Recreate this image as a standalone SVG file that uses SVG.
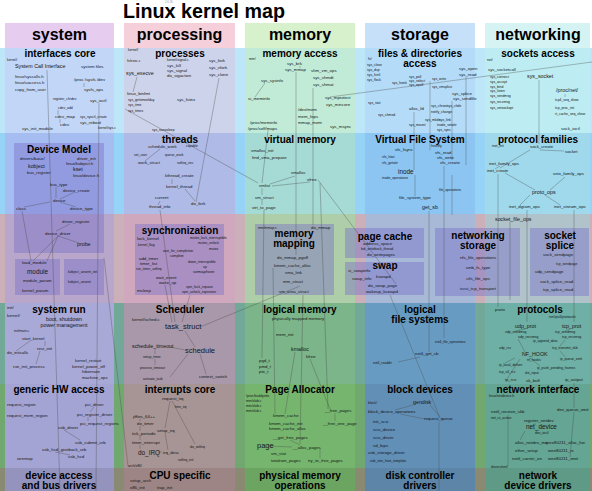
<svg xmlns="http://www.w3.org/2000/svg" width="592" height="491" viewBox="0 0 592 491">
<style>
text{font-family:"Liberation Sans",Arial,sans-serif;fill:#161616}
.h{font-size:16px;font-weight:bold;text-anchor:middle;fill:#000}
.t{font-size:10px;font-weight:bold;text-anchor:middle;fill:#000}
.a{font-size:3.4px}
.s{font-size:4.3px}
.m{font-size:5.3px}
.l{font-size:6.4px}
.x{font-size:7.5px}
.mid{text-anchor:middle}
.c{fill:none;stroke:#4a4a4a;stroke-width:0.45;opacity:0.8}
.bx{fill:#7a70c8;opacity:0.45}
</style>
<g id="background">
<rect x="0" y="0" width="592" height="491" fill="#ffffff"/>
<rect x="0" y="48" width="592" height="85" fill="#bde6f8"/>
<rect x="0" y="133" width="592" height="81" fill="#97d2f7"/>
<rect x="0" y="214" width="592" height="89" fill="#cbb0ba"/>
<rect x="0" y="303" width="592" height="81" fill="#72a898"/>
<rect x="0" y="384" width="592" height="84" fill="#70a870"/>
<rect x="0" y="468" width="592" height="23" fill="#8a8a72"/>
<rect x="5" y="23" width="109" height="25" fill="#e6cdef"/>
<rect x="124" y="23" width="111" height="25" fill="#f5d0da"/>
<rect x="245" y="23" width="110" height="25" fill="#d7f1cc"/>
<rect x="365" y="23" width="110" height="25" fill="#c6e0fa"/>
<rect x="485" y="23" width="105" height="25" fill="#d6f3f3"/>
<rect x="5" y="48" width="109" height="85" fill="#c2d6f8"/>
<rect x="124" y="48" width="111" height="85" fill="#cdd3ea"/>
<rect x="245" y="48" width="110" height="85" fill="#c1ebd6"/>
<rect x="365" y="48" width="110" height="85" fill="#b4dbf8"/>
<rect x="485" y="48" width="105" height="85" fill="#bdedf2"/>
<rect x="5" y="133" width="109" height="81" fill="#a6bdf2"/>
<rect x="124" y="133" width="111" height="81" fill="#afbae6"/>
<rect x="245" y="133" width="110" height="81" fill="#a6dad4"/>
<rect x="365" y="133" width="110" height="81" fill="#8cc5f2"/>
<rect x="485" y="133" width="105" height="81" fill="#a0d8ec"/>
<rect x="5" y="214" width="109" height="89" fill="#b9a6cb"/>
<rect x="124" y="214" width="111" height="89" fill="#cfa8bd"/>
<rect x="245" y="214" width="110" height="89" fill="#adcea8"/>
<rect x="365" y="214" width="110" height="89" fill="#a7b9d7"/>
<rect x="485" y="214" width="105" height="89" fill="#b0c3cb"/>
<rect x="5" y="303" width="109" height="81" fill="#a9a9d8"/>
<rect x="124" y="303" width="111" height="81" fill="#a898a9"/>
<rect x="245" y="303" width="110" height="81" fill="#7bb589"/>
<rect x="365" y="303" width="110" height="81" fill="#689bc2"/>
<rect x="485" y="303" width="105" height="81" fill="#6eb0a5"/>
<rect x="5" y="384" width="109" height="84" fill="#a4a4d4"/>
<rect x="124" y="384" width="111" height="84" fill="#a79494"/>
<rect x="245" y="384" width="110" height="84" fill="#76b56e"/>
<rect x="365" y="384" width="110" height="84" fill="#628fb6"/>
<rect x="485" y="384" width="105" height="84" fill="#64a593"/>
<rect x="5" y="468" width="109" height="23" fill="#9393bd"/>
<rect x="124" y="468" width="111" height="23" fill="#9d8585"/>
<rect x="245" y="468" width="110" height="23" fill="#6ca562"/>
<rect x="365" y="468" width="110" height="23" fill="#5c85a8"/>
<rect x="485" y="468" width="105" height="23" fill="#5e9a85"/>
</g>
<g id="boxes">
<rect class="bx" x="14" y="143" width="90" height="110"/>
<rect class="bx" x="15" y="259" width="45" height="36"/>
<rect class="bx" x="64" y="259" width="40" height="36"/>
<rect class="bx" x="135" y="224" width="89" height="71"/>
<rect class="bx" x="255" y="224" width="79" height="71"/>
<rect class="bx" x="345" y="228" width="79" height="30"/>
<rect class="bx" x="345" y="262" width="79" height="33"/>
<rect class="bx" x="435" y="228" width="85" height="68"/>
<rect class="bx" x="530" y="228" width="59" height="68"/>
</g>
<g id="connectors">
<path class="c" d="M47 70 L60 491"/>
<path class="c" d="M99 103 L96 491"/>
<path class="c" d="M58 110 L58 115 M60 119 L60 123 M84 83 L84 87"/>
<path class="c" d="M56 187 L56 198 M75 192 L60 199 M50 202 L24 207 M60 202 L76 207 M70 224 L56 231 M58 236 L79 243 M58 236 L33 261 M58 236 L47 261 M22 211 L31 261"/>
<path class="c" d="M30 341 L16 351 M45 341 L45 346 M40 351 L36 364"/>
<path class="c" d="M94 407 L90 412 M88 417 L88 421 M64 430 L80 440 M55 452 L70 455"/>
<path class="c" d="M104 258 L128 466"/>
<path class="c" d="M137 77 L133 92"/>
<path class="c" d="M125 109 L258 183"/>
<path class="c" d="M219 78 L196 202"/>
<path class="c" d="M160 149 L145 161 M172 179 L172 184 M185 189 L195 201 M160 201 L158 205"/>
<path class="c" d="M160 210 L175 322 M165 285 L172 322 M190 295 L182 322"/>
<path class="c" d="M200 327 L300 286"/>
<path class="c" d="M170 347 L185 350 M155 349 L155 354 M155 359 L155 365 M195 347 L185 331 M200 354 L206 374 M188 354 L170 377"/>
<path class="c" d="M140 419 L140 421 M140 426 L140 431 M140 436 L140 440 M140 445 L140 449 M158 452 L162 452 M170 401 L165 428 M165 433 L168 450 M172 401 L195 444"/>
<path class="c" d="M300 66 L300 68 M296 72 L296 255 M313 88 L313 225 M265 83 L255 97 M268 130 L262 183"/>
<path class="c" d="M295 176 L270 184 M310 182 L272 186 M262 188 L262 195 M262 200 L262 205"/>
<path class="c" d="M264 210 L262 358 M273 268 L275 414 M303 295 L300 444 M320 183 L328 409 M295 352 L285 414 M310 359 L330 409 M335 413 L335 421 M290 440 L300 445 M268 446 L292 447 M320 449 L320 458"/>
<path class="c" d="M318 180 L396 284"/>
<path class="c" d="M390 295 L440 418"/>
<path class="c" d="M414 112 L414 170 M430 81 L430 150 M452 101 L452 160 M466 77 L466 165"/>
<path class="c" d="M415 175 L415 196 M429 211 L429 352 M444 166 L444 338 M452 175 L452 215"/>
<path class="c" d="M413 405 L395 410 M430 405 L440 417 M400 414 L425 419 M439 422 L439 491"/>
<path class="c" d="M420 357 L398 362"/>
<path class="c" d="M539 80 L539 144 M565 94 L565 97 M540 150 L564 151 M530 150 L500 168 M500 166 L495 169 M505 173 L535 190 M565 177 L550 190 M530 195 L520 205 M545 195 L560 205"/>
<path class="c" d="M498 174 L498 307 M527 210 L527 322 M574 210 L574 322 M510 222 L510 300"/>
<path class="c" d="M525 329 L515 331 M570 329 L565 331 M518 339 L525 352 M565 340 L560 346 M560 351 L565 357 M515 358 L505 363 M530 358 L540 366 M507 379 L520 359"/>
<path class="c" d="M574 383 L574 408 M574 412 L570 457 M508 415 L508 466 M535 423 L535 425 M525 431 L520 440"/>
<path class="c" d="M330 97 L592 62"/>
</g>
<g id="title">
<text x="204" y="18" style="font-size:19.7px;font-weight:bold;text-anchor:middle;fill:#000">Linux kernel map</text>
<text x="165" y="3.2" style="font-size:2.8px;fill:#9a9a9a">2.6.36</text>
</g>
<g id="col-system"><text class="h" x="59.5" y="40">system</text></g>
<g id="col-processing"><text class="h" x="179.5" y="40">processing</text></g>
<g id="col-memory"><text class="h" x="300" y="40">memory</text></g>
<g id="col-storage"><text class="h" x="420" y="40">storage</text></g>
<g id="col-networking"><text class="h" x="538" y="40">networking</text></g>
<g id="interfaces-core">
<text class="t" x="60" y="57">interfaces core</text>
<text class="a" x="7" y="61">kernel/</text>
<text class="m" x="15" y="68">System Call Interface</text>
<text class="s" x="81" y="68">system files</text>
<text class="s" x="15" y="78">linux/syscalls.h</text>
<text class="s" x="74" y="81">/proc /sysfs /dev</text>
<text class="s" x="15" y="84">linux/uaccess.h</text>
<text class="s" x="84" y="91">sysfs_ops</text>
<text class="s" x="15" y="91">copy_from_user</text>
<text class="a" x="53" y="100">register_chrdev</text>
<text class="s" x="90" y="102">sys_ioctl</text>
<text class="a" x="58" y="109">cdev_add</text>
<text class="s" x="55" y="118">cdev_map</text>
<text class="a" x="80" y="118">sys_sysctl_create</text>
<text class="s" x="60" y="126">cdev</text>
<text class="s" x="80" y="124">sys_reboot</text>
<text class="s" x="22" y="130">sys_init_module</text>
<text class="a" x="98" y="129">kernel/sys.c</text>
</g>
<g id="processes">
<text class="t" x="180" y="57">processes</text>
<text class="a" x="128" y="51">kernel/</text>
<text class="a" x="127" y="62">fs/exec.c</text>
<text class="a" x="167" y="61">kernel/signal.c</text>
<text class="s" x="167" y="67">sys_kill</text>
<text class="s" x="167" y="72">sys_signal</text>
<text class="s" x="167" y="77">do_sigaction</text>
<text class="m" x="126" y="75">sys_execve</text>
<text class="s" x="209" y="62">sys_fork</text>
<text class="s" x="209" y="69">sys_vfork</text>
<text class="s" x="209" y="76">sys_clone</text>
<text class="s" x="127" y="95">linux_binfmt</text>
<text class="a" x="128" y="101">sys_gettimeofday</text>
<text class="a" x="128" y="106">sys_time</text>
<text class="a" x="128" y="112">sys_times</text>
<text class="s" x="177" y="101">sys_futex</text>
<text class="a" x="152" y="131">sys_nanosleep</text>
</g>
<g id="memory-access">
<text class="t" x="300" y="57">memory access</text>
<text class="a" x="249" y="60">mm/</text>
<text class="s" x="287" y="65">sys_brk</text>
<text class="s" x="285" y="71">sys_mmap</text>
<text class="s" x="311" y="72">shm_vm_ops</text>
<text class="s" x="313" y="79">sys_shmdt</text>
<text class="s" x="313" y="86">sys_shmat</text>
<text class="s" x="261" y="82">sys_sysinfo</text>
<text class="s" x="248" y="100">si_meminfo</text>
<text class="s" x="325" y="99">sys_mprotect</text>
<text class="s" x="326" y="106">sys_mincore</text>
<text class="s" x="298" y="111">/dev/mem</text>
<text class="s" x="298" y="118">mem_fops</text>
<text class="s" x="298" y="124">mmap_mem</text>
<text class="s" x="330" y="128">sys_msync</text>
<text class="s" x="250" y="124">/proc/meminfo</text>
<text class="s" x="248" y="130">/proc/self/maps</text>
</g>
<g id="files-access">
<text class="t" x="420" y="57">files &amp; directories</text>
<text class="t" x="420" y="67">access</text>
<text class="a" x="368" y="60">fs/</text>
<text class="a" x="367" y="66">sys_close</text>
<text class="a" x="367" y="71">sys_dup</text>
<text class="a" x="367" y="76">sys_fcntl</text>
<text class="a" x="367" y="81">sys_flock</text>
<text class="s" x="459" y="70">sys_open</text>
<text class="s" x="459" y="76">sys_read</text>
<text class="a" x="432" y="80">sys_write</text>
<text class="a" x="409" y="78">sys_poll</text>
<text class="a" x="409" y="82">sys_select</text>
<text class="a" x="409" y="86">sys_epoll</text>
<text class="a" x="392" y="84">sys_lseek</text>
<text class="a" x="432" y="88">sys_vmsplice</text>
<text class="s" x="452" y="95">sys_splice</text>
<text class="s" x="453" y="100">sys_sendfile</text>
<text class="a" x="368" y="104">sys_stat</text>
<text class="a" x="378" y="116">sys_chmod</text>
<text class="a" x="431" y="107">sys_chroot</text>
<text class="a" x="447" y="107">sys_chdir</text>
<text class="s" x="409" y="110">alloc_fd</text>
<text class="a" x="431" y="113">notify_change</text>
<text class="a" x="425" y="121">sys_mkdir</text>
<text class="a" x="439" y="121">sys_link</text>
<text class="a" x="409" y="126">sys_mount</text>
<text class="a" x="437" y="126">inode_setattr</text>
<text class="a" x="437" y="131">sys_sync</text>
</g>
<g id="sockets-access">
<text class="t" x="538" y="57">sockets access</text>
<text class="a" x="487" y="61">net/</text>
<text class="s" x="488" y="71">sys_socketcall</text>
<text class="a" x="490" y="78">sys_connect</text>
<text class="a" x="490" y="83">sys_accept</text>
<text class="a" x="490" y="88">sys_bind</text>
<text class="a" x="490" y="92">sys_listen</text>
<text class="a" x="490" y="97">sys_sendmsg</text>
<text class="a" x="490" y="103">sys_recvmsg</text>
<text class="a" x="490" y="109">sys_setsockopt</text>
<text class="m" x="527" y="78">sys_socket</text>
<text class="m" x="556" y="92">/proc/net/</text>
<text class="a" x="555" y="101">tcp4_seq_show</text>
<text class="a" x="555" y="109">tcp_proc_init</text>
<text class="a" x="555" y="115">rt_cache_seq_show</text>
<text class="s" x="561" y="130">sock_ioctl</text>
</g>
<g id="device-model">
<text class="t" x="59" y="153">Device Model</text>
<text class="s" x="20" y="159.5">drivers/base/</text>
<text class="s" x="77" y="159.5">driver_init</text>
<text class="m" x="28" y="168">kobject</text>
<text class="s" x="66" y="165">linux/kobject.h</text>
<text class="s" x="27" y="174">bus_register</text>
<text class="m" x="73" y="171">kset</text>
<text class="s" x="73" y="177">linux/device.h</text>
<text class="s" x="50" y="186">bus_type</text>
<text class="s" x="63" y="192">device_create</text>
<text class="s" x="53" y="202">device</text>
<text class="s" x="16" y="210">class</text>
<text class="s" x="70" y="210">device_type</text>
<text class="s" x="62" y="223">driver_register</text>
<text class="s" x="45" y="235">device_driver</text>
<text class="m" x="77" y="246">probe</text>
</g>
<g id="modules">
<text class="s" x="22" y="264">load_module</text>
<text class="l" x="27" y="274">module</text>
<text class="s" x="23" y="282">module_param</text>
<text class="s" x="22" y="292">kernel_param</text>
</g>
<g id="uevent">
<text class="a" x="68" y="273">kobject_uevent_init</text>
<text class="a" x="68" y="283">kobject_uevent</text>
</g>
<g id="threads">
<text class="t" x="180" y="143">threads</text>
<text class="s" x="148" y="148">schedule_work</text>
<text class="a" x="186" y="147">capable</text>
<text class="a" x="134" y="156">set_user</text>
<text class="a" x="165" y="156">queue_work</text>
<text class="s" x="138" y="164">work_struct</text>
<text class="a" x="177" y="164">softirq_vec</text>
<text class="s" x="165" y="177">kthread_create</text>
<text class="s" x="166" y="188">kernel_thread</text>
<text class="s" x="155" y="199">current</text>
<text class="s" x="149" y="208">thread_info</text>
<text class="s" x="191" y="205">do_fork</text>
</g>
<g id="virtual-memory">
<text class="t" x="300" y="143">virtual memory</text>
<text class="s" x="251" y="152">vmalloc_init</text>
<text class="s" x="252" y="159">find_vma_prepare</text>
<text class="s" x="291" y="174">vmalloc</text>
<text class="s" x="307" y="181">vfree</text>
<text class="s" x="259" y="187">vmlist</text>
<text class="s" x="255" y="199">vm_struct</text>
<text class="s" x="252" y="209">virt_to_page</text>
</g>
<g id="vfs">
<text class="t" x="420" y="143">Virtual File System</text>
<text class="s" x="395" y="151">vfs_fsync</text>
<text class="a" x="431" y="147">fsnotify</text>
<text class="a" x="382" y="158">vfs_lstat</text>
<text class="a" x="382" y="164">vfs_getattr</text>
<text class="s" x="435" y="154">vfs_read</text>
<text class="s" x="437" y="159">vfs_write</text>
<text class="s" x="440" y="164">vfs_create</text>
<text class="l" x="398" y="174">inode</text>
<text class="a" x="382" y="179">inode_operations</text>
<text class="a" x="439" y="191">file_operations</text>
<text class="s" x="399" y="199">file_system_type</text>
<text class="m" x="422" y="209">get_sb</text>
</g>
<g id="protocol-families">
<text class="t" x="538" y="143">protocol families</text>
<text class="a" x="492" y="147">inet_init</text>
<text class="s" x="530" y="148">sock_create</text>
<text class="s" x="565" y="153">socket</text>
<text class="s" x="489" y="165">inet_family_ops</text>
<text class="s" x="487" y="172">inet_create</text>
<text class="s" x="553" y="175">unix_family_ops</text>
<text class="m" x="532" y="194">proto_ops</text>
<text class="s" x="509" y="208">inet_dgram_ops</text>
<text class="s" x="554" y="208">inet_stream_ops</text>
<text class="m" x="495" y="221">socket_file_ops</text>
</g>
<g id="synchronization">
<text class="t" x="180" y="234">synchronization</text>
<text class="s" x="137" y="240">lock_kernel</text>
<text class="a" x="138" y="246">kernel_flag</text>
<text class="a" x="190" y="239">mutex_lock_interruptible</text>
<text class="a" x="198" y="244">mutex_unlock</text>
<text class="a" x="209" y="250">mutex</text>
<text class="a" x="163" y="252">wait_for_completion</text>
<text class="a" x="170" y="257">complete</text>
<text class="s" x="139" y="260">add_timer</text>
<text class="s" x="140" y="265">timer_list</text>
<text class="a" x="136" y="270">run_timer_softirq</text>
<text class="a" x="188" y="263">down_interruptible</text>
<text class="a" x="203" y="268">up</text>
<text class="s" x="193" y="273">semaphore</text>
<text class="s" x="156" y="279">wait_event</text>
<text class="s" x="159" y="284">wake_up</text>
<text class="a" x="186" y="288">spin_lock_irqsave</text>
<text class="a" x="182" y="293">spin_unlock_irqrestore</text>
<text class="s" x="137" y="292">msleep</text>
</g>
<g id="memory-mapping">
<text class="a" x="258" y="229">mm/mmap.c</text>
<text class="s" x="311" y="229">do_mmap</text>
<text class="t" x="294" y="237">memory</text>
<text class="t" x="294" y="247">mapping</text>
<text class="s" x="277" y="259">do_mmap_pgoff</text>
<text class="s" x="274" y="267">kmem_cache_alloc</text>
<text class="s" x="285" y="274">vma_link</text>
<text class="s" x="283" y="283">mm_struct</text>
<text class="s" x="279" y="293">vm_area_struct</text>
</g>
<g id="page-cache">
<text class="t" x="385" y="240">page cache</text>
<text class="s" x="363" y="245">address_space</text>
<text class="a" x="361" y="250">bdi_writeback_thread</text>
<text class="s" x="367" y="256">do_writepages</text>
</g>
<g id="swap">
<text class="t" x="385" y="269">swap</text>
<text class="s" x="348" y="272">si_swapinfo</text>
<text class="s" x="352" y="280">swap_info</text>
<text class="s" x="376" y="278">kswapd</text>
<text class="s" x="368" y="287">do_swap_page</text>
<text class="s" x="366" y="293">wakeup_kswapd</text>
</g>
<g id="networking-storage">
<text class="t" x="478" y="239">networking</text>
<text class="t" x="478" y="249">storage</text>
<text class="s mid" x="478" y="259">nfs_file_operations</text>
<text class="s mid" x="478" y="269">smb_fs_type</text>
<text class="s mid" x="478" y="280">cifs_file_ops</text>
<text class="s mid" x="478" y="290">iscsi_tcp_transport</text>
</g>
<g id="socket-splice">
<text class="t" x="560" y="239">socket</text>
<text class="t" x="560" y="249">splice</text>
<text class="s" x="543" y="256">sock_sendpage</text>
<text class="a" x="556" y="265">tcp_sendpage</text>
<text class="s" x="535" y="273">udp_sendpage</text>
<text class="s" x="540" y="283">sock_splice_read</text>
<text class="s" x="543" y="291">tcp_splice_read</text>
</g>
<g id="system-run">
<text class="t" x="59" y="313">system run</text>
<text class="s" x="7" y="309">init/</text>
<text class="s" x="7" y="317">kernel/</text>
<text class="m mid" x="64" y="321">boot, shutdown</text>
<text class="m mid" x="64" y="327">power management</text>
<text class="a" x="14" y="332">init/main.c</text>
<text class="s" x="22" y="340">start_kernel</text>
<text class="s" x="37" y="350">rest_init</text>
<text class="s" x="7" y="354">do_initcalls</text>
<text class="s" x="13" y="368">run_init_process</text>
<text class="s" x="75" y="362">kernel_restart</text>
<text class="s" x="72" y="368">kernel_power_off</text>
<text class="s" x="82" y="373">hibernate</text>
<text class="s" x="82" y="379">machine_ops</text>
</g>
<g id="scheduler">
<text class="t" x="180" y="313">Scheduler</text>
<text class="s" x="132" y="321">kernel/sched.c</text>
<text class="x" x="165" y="329">task_struct</text>
<text class="m" x="132" y="348">schedule_timeout</text>
<text class="x" x="185" y="353">schedule</text>
<text class="a" x="143" y="358">setup_timer</text>
<text class="a" x="140" y="369">process_timeout</text>
<text class="a" x="143" y="380">activate_task</text>
<text class="s" x="199" y="378">context_switch</text>
</g>
<g id="interrupts-core">
<text class="t" x="180" y="393">interrupts core</text>
<text class="s" x="162" y="400">request_irq</text>
<text class="a" x="175" y="408">free_irq</text>
<text class="s" x="133" y="418">jiffies_64++</text>
<text class="s" x="137" y="425">do_timer</text>
<text class="s" x="157" y="432">setup_irq</text>
<text class="s" x="132" y="435">tick_periodic</text>
<text class="s" x="132" y="444">timer_interrupt</text>
<text class="l" x="138" y="455">do_IRQ</text>
<text class="s" x="163" y="454">irq_desc</text>
<text class="a" x="190" y="448">do_softirq</text>
<text class="a" x="178" y="461">softirq_init</text>
</g>
<g id="cpu-specific">
<text class="t" x="180" y="479">CPU specific</text>
<text class="a" x="128" y="467">arch/x86/</text>
<text class="s" x="130" y="482">setup_arch</text>
<text class="s" x="130" y="489">x86_init</text>
<text class="s" x="157" y="489">trap_init</text>
</g>
<g id="logical-memory">
<text class="t" x="300" y="313">logical memory</text>
<text class="s mid" x="298" y="320">physically mapped memory</text>
<text class="s" x="276" y="336">mem_init</text>
<text class="m" x="291" y="351">kmalloc</text>
<text class="s" x="306" y="358">kfree</text>
<text class="s" x="259" y="362">pgd_t</text>
<text class="s" x="259" y="368">pmd_t</text>
<text class="s" x="259" y="373">pte_t</text>
</g>
<g id="page-allocator">
<text class="t" x="300" y="393">Page Allocator</text>
<text class="a" x="246" y="397">/proc/buddyinfo</text>
<text class="a" x="246" y="402">mm/slab.c</text>
<text class="a" x="246" y="407">mm/slob.c</text>
<text class="a" x="246" y="412">mm/slub.c</text>
<text class="s" x="273" y="417">kmem_cache</text>
<text class="s" x="325" y="412">__free_pages</text>
<text class="s" x="269" y="425">kmem_cache_init</text>
<text class="s" x="269" y="430">kmem_cache_alloc</text>
<text class="s" x="323" y="425">__free_one_page</text>
<text class="s" x="273" y="439">__get_free_pages</text>
<text class="x" x="257" y="448">page</text>
<text class="s" x="293" y="449">__alloc_pages</text>
<text class="s" x="271" y="455">vm_stat</text>
<text class="s" x="271" y="462">totalram_pages</text>
<text class="s" x="308" y="462">try_to_free_pages</text>
</g>
<g id="physical-memory">
<text class="t" x="300" y="479">physical memory</text>
<text class="t" x="300" y="489">operations</text>
</g>
<g id="logical-fs">
<text class="t" x="420" y="313">logical</text>
<text class="t" x="420" y="323">file systems</text>
<text class="a" x="435" y="343">ext4_file_operations</text>
<text class="s" x="415" y="355">ext4_get_sb</text>
<text class="a" x="373" y="364">ext4_readdir</text>
</g>
<g id="block-devices">
<text class="t" x="420" y="393">block devices</text>
<text class="a" x="368" y="404">block/</text>
<text class="m" x="413" y="404">gendisk</text>
<text class="s" x="368" y="413">block_device_operations</text>
<text class="s" x="424" y="420">request_queue</text>
<text class="s" x="373" y="423">init_scsi</text>
<text class="s" x="373" y="431">scsi_device</text>
<text class="s" x="373" y="439">scsi_driver</text>
<text class="s" x="373" y="447">sd_fops</text>
<text class="s" x="368" y="454">usb_storage_driver</text>
<text class="a" x="370" y="462">usb_stor_host_template</text>
</g>
<g id="disk-controller">
<text class="t" x="420" y="479">disk controller</text>
<text class="t" x="420" y="489">drivers</text>
</g>
<g id="protocols">
<text class="t" x="540" y="313">protocols</text>
<text class="s" x="495" y="311">proto</text>
<text class="a" x="549" y="318">net/ipv4/protocols</text>
<text class="m" x="515" y="328">udp_prot</text>
<text class="m" x="562" y="328">tcp_prot</text>
<text class="a" x="505" y="333">udp_sendmsg</text>
<text class="a" x="518" y="338">udp_recvmsg</text>
<text class="a" x="555" y="333">tcp_sendmsg</text>
<text class="a" x="562" y="338">tcp_recvmsg</text>
<text class="a" x="533" y="342">ip_append_data</text>
<text class="a" x="499" y="349">udp_rcv</text>
<text class="a" x="552" y="349">tcp_transmit_skb</text>
<text class="m" x="522" y="356">NF_HOOK</text>
<text class="a" x="527" y="361">nf_hooks</text>
<text class="a" x="560" y="360">ip_queue_xmit</text>
<text class="a" x="499" y="366">ip_local_deliver</text>
<text class="a" x="537" y="369">ip_push_pending_frames</text>
<text class="a" x="499" y="373">tcp_v4_rcv</text>
<text class="a" x="525" y="374">dst_input</text>
<text class="s" x="505" y="381">ip_rcv</text>
<text class="s" x="526" y="382">sk_buff</text>
<text class="s" x="565" y="381">ip_output</text>
</g>
<g id="network-interface">
<text class="t" x="538" y="393">network interface</text>
<text class="a" x="489" y="397">linux/netdevice.h</text>
<text class="s" x="557" y="411">dev_queue_xmit</text>
<text class="s" x="491" y="413">netif_receive_skb</text>
<text class="a" x="491" y="419">net_rx_action</text>
<text class="s" x="524" y="422">register_netdev</text>
<text class="l" x="526" y="429">net_device</text>
<text class="a" x="535" y="434">dev_ioctl</text>
<text class="s" x="515" y="444">alloc_netdev_mq</text>
<text class="s" x="546" y="444">ieee80211_alloc_hw</text>
<text class="s" x="515" y="452">ether_setup</text>
<text class="s" x="548" y="452">ieee80211_rx</text>
<text class="s" x="512" y="460">netif_carrier_on</text>
<text class="s" x="548" y="460">ieee80211_xmit</text>
<text class="a" x="491" y="468">drivers/net/</text>
</g>
<g id="network-device-drivers">
<text class="t" x="538" y="479">network</text>
<text class="t" x="538" y="489">device drivers</text>
</g>
<g id="generic-hw-access">
<text class="t" x="59" y="393">generic HW access</text>
<text class="s" x="7" y="406">request_region</text>
<text class="s" x="7" y="417">request_mem_region</text>
<text class="s" x="85" y="406">pci_driver</text>
<text class="s" x="77" y="416">pci_register_driver</text>
<text class="s" x="80" y="425">pci_request_regions</text>
<text class="s" x="58" y="429">usb_driver</text>
<text class="s" x="75" y="444">usb_submit_urb</text>
<text class="s" x="42" y="451">usb_hcd_giveback_urb</text>
<text class="s" x="68" y="458">usb_hcd</text>
<text class="s" x="17" y="460">ioremap</text>
</g>
<g id="device-access">
<text class="t" x="59" y="479">device access</text>
<text class="t" x="59" y="489">and bus drivers</text>
</g>
</svg>
